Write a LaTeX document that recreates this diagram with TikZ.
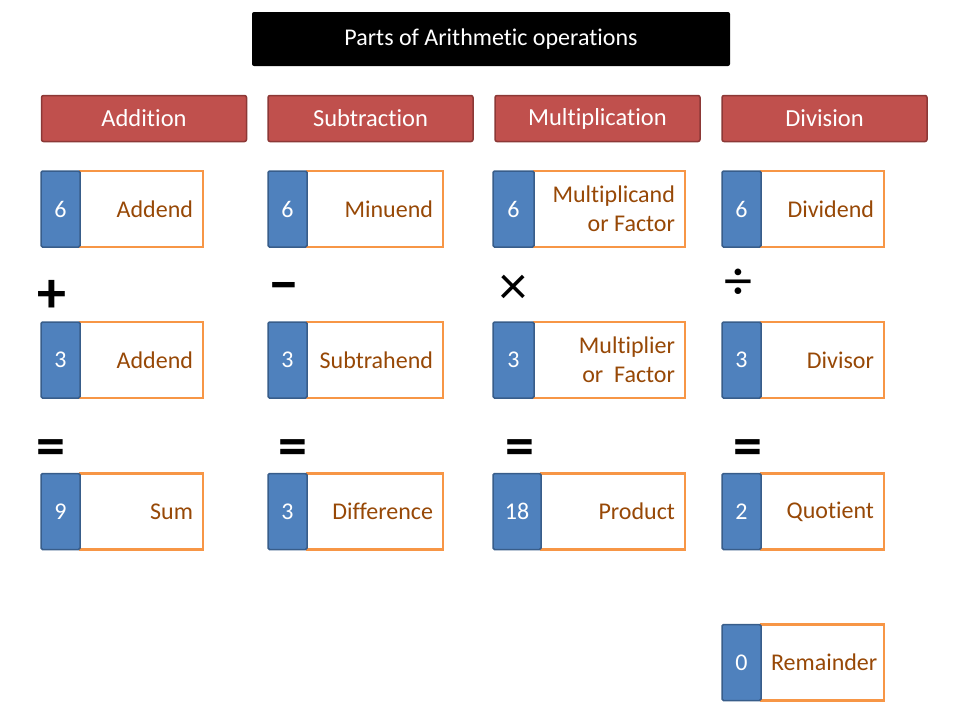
\documentclass[tikz,border=0pt]{standalone}
\usepackage{fontspec}
\setmainfont{Carlito}[Ligatures=NoCommon]
\definecolor{headred}{HTML}{C0504D}
\definecolor{headedge}{HTML}{8C3836}
\definecolor{numblue}{HTML}{4F81BD}
\definecolor{numedge}{HTML}{385D8A}
\definecolor{partedge}{HTML}{F79646}
\definecolor{parttext}{HTML}{974806}
\tikzset{
    titlebox/.style={fill=black, rounded corners=2pt, text=white,
        minimum width=478pt, minimum height=54pt, font=\fontsize{24}{28}\selectfont},
    headbox/.style={fill=headred, draw=headedge, line width=1.5pt, rounded corners=2pt,
        text=white, minimum width=205pt, minimum height=46pt, font=\fontsize{24.5}{28}\selectfont},
    numbox/.style={fill=numblue, draw=numedge, line width=1.5pt, rounded corners=1.5pt,
        text=white, minimum height=76pt, inner sep=0pt, font=\fontsize{24}{28}\selectfont},
    partbox/.style={fill=white, draw=partedge, line width=2.2pt, text=parttext,
        minimum height=76pt, inner xsep=10pt, align=flush right,
        font=\fontsize{24}{29}\selectfont},
    opsign/.style={inner sep=0pt, font=\fontsize{#1}{#1}\selectfont},
    boldsign/.style={inner sep=0pt, font=\fontsize{#1}{#1}\selectfont\bfseries},
}
\begin{document}
\begin{tikzpicture}[x=1pt, y=-1pt]
    \useasboundingbox (0, 0) rectangle (960, 720);

    \node[titlebox] (title) at (491, 39) {Parts of Arithmetic operations};

    \node[headbox] (hadd) at (144, 118.5) {Addition};
    \node[headbox] (hsub) at (370.5, 118.5) {Subtraction};
    \node[headbox] (hmul) at (597.5, 118.5) {Multiplication};
    \node[headbox] (hdiv) at (824.5, 118.5) {Division};

    % addition
        \node[partbox, text width=103pt] (add1) at (141.5, 209) {Addend};
        \node[numbox, minimum width=39pt] (add1n) at (60.5, 209) {6};
        \node[partbox, text width=103pt] (add2) at (141.5, 360) {Addend};
        \node[numbox, minimum width=39pt] (add2n) at (60.5, 360) {3};
        \node[partbox, text width=103pt] (add3) at (141.5, 511.5) {Sum};
        \node[numbox, minimum width=39pt] (add3n) at (60.5, 511.5) {9};
        \node[boldsign=58] (addop) at (52, 296) {+};
        \node[boldsign=58] (addeq) at (51, 453) {=};

    % subtraction
        \node[partbox, text width=116pt] (sub1) at (375, 209) {Minuend};
        \node[numbox, minimum width=39pt] (sub1n) at (287.5, 209) {6};
        \node[partbox, text width=116pt] (sub2) at (375, 360) {Subtrahend};
        \node[numbox, minimum width=39pt] (sub2n) at (287.5, 360) {3};
        \node[partbox, text width=116pt] (sub3) at (375, 511.5) {Difference};
        \node[numbox, minimum width=39pt] (sub3n) at (287.5, 511.5) {3};
        \node[boldsign=58] (subop) at (284, 293) {−};
        \node[boldsign=58] (subeq) at (293, 453) {=};

    % multiplication
        \node[partbox, text width=131pt] (mul1) at (609.5, 209) {Multiplicand\\or Factor};
        \node[numbox, minimum width=41pt] (mul1n) at (513.5, 209) {6};
        \node[partbox, text width=131pt] (mul2) at (609.5, 360) {Multiplier\\or~ Factor};
        \node[numbox, minimum width=41pt] (mul2n) at (513.5, 360) {3};
        \node[partbox, text width=124pt] (mul3) at (613, 511.5) {Product};
        \node[numbox, minimum width=48pt] (mul3n) at (517, 511.5) {18};
        \node[opsign=56] (mulop) at (513, 290) {×};
        \node[boldsign=58] (muleq) at (520, 453) {=};

    % division
        \node[partbox, text width=103pt] (div1) at (822.5, 209) {Dividend};
        \node[numbox, minimum width=39pt] (div1n) at (741.5, 209) {6};
        \node[partbox, text width=103pt] (div2) at (822.5, 360) {Divisor};
        \node[numbox, minimum width=39pt] (div2n) at (741.5, 360) {3};
        \node[partbox, text width=103pt] (div3) at (822.5, 511.5) {Quotient};
        \node[numbox, minimum width=39pt] (div3n) at (741.5, 511.5) {2};
        \node[partbox, text width=103pt] (div4) at (822.5, 662.5) {Remainder};
        \node[numbox, minimum width=39pt] (div4n) at (741.5, 662.5) {0};
        \node[opsign=56] (divop) at (738, 284) {÷};
        \node[boldsign=58] (diveq) at (748, 453) {=};
\end{tikzpicture}
\end{document}
